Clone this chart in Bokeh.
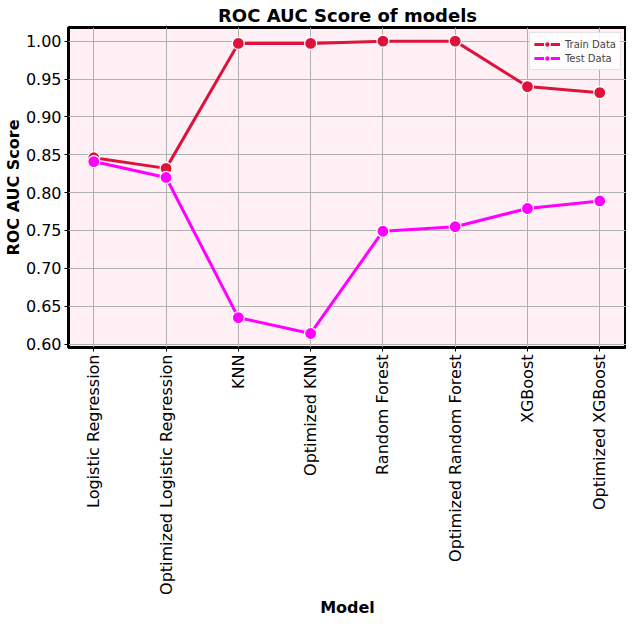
import math
from bokeh.plotting import figure
from bokeh.models import Range1d, FixedTicker
from bokeh.embed import file_html
from bokeh.resources import INLINE

models = ["Logistic Regression", "Optimized Logistic Regression", "KNN", "Optimized KNN",
          "Random Forest", "Optimized Random Forest", "XGBoost", "Optimized XGBoost"]
train_auc = [0.846, 0.832, 0.997, 0.997, 1.000, 1.000, 0.940, 0.932]
test_auc = [0.841, 0.820, 0.635, 0.614, 0.749, 0.755, 0.779, 0.789]
y_ticks = [0.60, 0.65, 0.70, 0.75, 0.80, 0.85, 0.90, 0.95, 1.00]

xs = list(range(len(models)))
FONT = "DejaVu Sans"

p = figure(width=626, height=619, output_backend="svg", toolbar_location=None,
           x_range=Range1d(-0.35, 7.37), y_range=Range1d(0.5955, 1.018),
           min_border_left=55, min_border_right=0, min_border_top=20, min_border_bottom=250,
           title="ROC AUC Score of models")

p.background_fill_color = "#FFF0F5"
p.border_fill_color = "white"
p.outline_line_color = "black"
p.outline_line_width = 3

p.title.text_font = FONT
p.title.text_font_size = "18px"
p.title.text_font_style = "bold"
p.title.align = "center"
p.title.text_color = "black"
p.title.standoff = 4
p.title.offset = 0

p.line(xs, train_auc, color="#DC143C", line_width=3, legend_label="Train Data")
p.scatter(xs, train_auc, size=12, fill_color="#DC143C", line_color="white", line_width=1.2,
          legend_label="Train Data")
p.line(xs, test_auc, color="#FF00FF", line_width=3, legend_label="Test Data")
p.scatter(xs, test_auc, size=12, fill_color="#FF00FF", line_color="white", line_width=1.2,
          legend_label="Test Data")

p.xaxis.ticker = FixedTicker(ticks=xs)
p.xaxis.major_label_overrides = {i: m for i, m in enumerate(models)}
p.xaxis.major_label_orientation = math.pi / 2
p.yaxis.ticker = FixedTicker(ticks=y_ticks)
p.yaxis.major_label_overrides = {t: f"{t:.2f}" for t in y_ticks}

for ax in (p.xaxis[0], p.yaxis[0]):
    ax.axis_line_color = None
    ax.major_tick_line_color = "black"
    ax.major_tick_out = 4
    ax.major_tick_in = 0
    ax.minor_tick_line_color = None
    ax.major_label_text_font = FONT
    ax.major_label_text_font_size = "16px"
    ax.major_label_text_color = "black"
    ax.major_label_standoff = 3
    ax.axis_label_standoff = 0
    ax.axis_label_text_font = FONT
    ax.axis_label_text_font_size = "16px"
    ax.axis_label_text_font_style = "bold"
    ax.axis_label_text_color = "black"

p.xaxis.axis_label = "Model"
p.yaxis.axis_label = "ROC AUC Score"

p.xgrid.grid_line_color = "#b0b0b0"
p.ygrid.grid_line_color = "#b0b0b0"
p.xgrid.grid_line_width = 1
p.ygrid.grid_line_width = 1

p.legend.location = "top_right"
p.legend.margin = 5
p.legend.padding = 4
p.legend.spacing = 0
p.legend.label_text_font = FONT
p.legend.label_text_font_size = "10px"
p.legend.label_height = 14
p.legend.glyph_height = 14
p.legend.glyph_width = 26
p.legend.border_line_color = "#cccccc"
p.legend.background_fill_alpha = 0.85

open("out.html", "w").write(file_html(p, INLINE))
